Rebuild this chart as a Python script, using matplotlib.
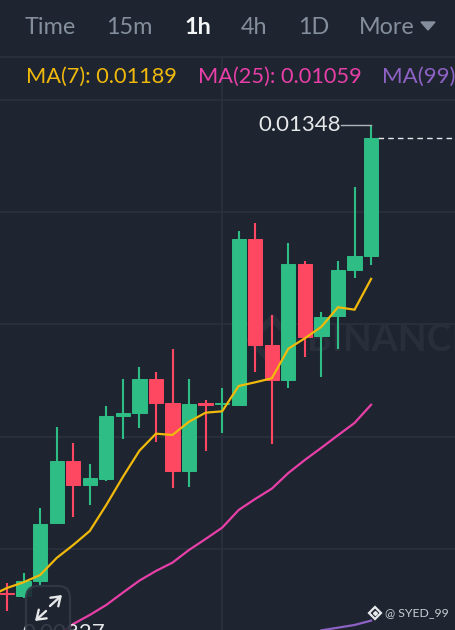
import matplotlib
matplotlib.use("Agg")
import matplotlib.pyplot as plt
from matplotlib.patches import FancyBboxPatch, Polygon

# candles
opens = [0.00865, 0.008618, 0.00877, 0.009372, 0.01001, 0.00976, 0.00982, 0.010474, 0.010502, 0.010853, 0.010611, 0.009909,
         0.010605, 0.010595, 0.010584, 0.012305, 0.011204, 0.010843, 0.012044, 0.011303, 0.011507, 0.011985, 0.012127]
closes = [0.00863, 0.00877, 0.009358, 0.010009, 0.00976, 0.00983, 0.010474, 0.010505, 0.010853, 0.010605, 0.009909, 0.010595,
          0.010588, 0.010611, 0.012305, 0.011204, 0.010843, 0.012044, 0.011293, 0.011494, 0.011985, 0.012127, 0.013343]
highs = [0.00875, 0.008852, 0.009524, 0.01036, 0.010195, 0.00998, 0.010577, 0.010853, 0.010977, 0.010932, 0.011166, 0.010853,
         0.01064, 0.010763, 0.012385, 0.012468, 0.011517, 0.012261, 0.012075, 0.011545, 0.012075, 0.01284, 0.01348]
lows = [0.00846, 0.008594, 0.008728, 0.00937, 0.009434, 0.009555, 0.009806, 0.01024, 0.010353, 0.010205, 0.009733, 0.009744,
        0.010115, 0.010301, 0.010584, 0.010932, 0.010182, 0.010763, 0.011087, 0.010874, 0.011163, 0.0119, 0.012034]

ma7_x = list(range(-1, 23))
ma7 = [0.008615, 0.008697, 0.008756, 0.008831, 0.009007, 0.009141, 0.009286, 0.009555, 0.009844, 0.010115, 0.010291, 0.010278,
       0.010415, 0.010508, 0.010522, 0.010784, 0.010822, 0.010863, 0.011169, 0.011277, 0.011396, 0.011597, 0.011572, 0.01189]
ma25_x = list(range(3, 23))
ma25 = [0.0082, 0.008325, 0.008418, 0.008522, 0.008649, 0.008773, 0.008873, 0.008959, 0.00909, 0.009203, 0.00932, 0.009503,
        0.009617, 0.009723, 0.009885, 0.01002, 0.010146, 0.010275, 0.010402, 0.01059]
ma99_x = [19, 20, 21, 22]
ma99 = [0.00826, 0.008287, 0.008315, 0.00836]

grid_prices = [0.01258, 0.01142, 0.01026, 0.0091]
tabs = ["Time", "15m", "1h", "4h", "1D", "More"]
tab_x = [25, 106, 184, 241, 298, 359]

BG = "#1e2530"
GRID = "#2b323e"
GREEN = "#2ebd85"
RED = "#fe4761"
W, H = 455, 630
FONT = "Lato"

fig = plt.figure(figsize=(W / 100, H / 100), dpi=100, facecolor=BG)
ax = fig.add_axes([0, 0, 1, 1], facecolor=BG)
ax.set_xlim(-7 / 16.55, (W - 7) / 16.55)
ax.set_ylim(0.008263, 0.014771)
ax.axis("off")

# second axes in pixels for the header and the overlays
ov = fig.add_axes([0, 0, 1, 1], facecolor="none", zorder=5)
ov.set_xlim(0, W)
ov.set_ylim(H, 0)
ov.axis("off")

for p in grid_prices:
    ax.axhline(p, color=GRID, lw=1.2, zorder=1)
ax.axvline(13, ymax=(H - 57) / H, color=GRID, lw=1.2, zorder=1)

# faint watermark behind the candles
ax.text(307 / W, 1 - 340 / H, "BINANCE", transform=fig.transFigure, color="#282f3b", fontsize=27,
        fontweight="bold", family=FONT, va="center", zorder=2)
ax.plot([272 / W], [1 - 340 / H], transform=fig.transFigure, marker="D", ms=22, mfc="none", mec="#282f3b",
        mew=5, zorder=2)

for i in range(len(opens)):
    c = GREEN if closes[i] >= opens[i] else RED
    ax.vlines(i, lows[i], highs[i], color=c, lw=1.5, zorder=3)
    ax.bar(i, abs(closes[i] - opens[i]), bottom=min(opens[i], closes[i]), width=0.86, color=c,
           edgecolor=c, lw=0.7, zorder=4)

ax.plot(ma7_x, ma7, color="#f0b90b", lw=1.6, zorder=6, solid_joinstyle="miter")
ax.plot(ma25_x, ma25, color="#e83fa8", lw=1.6, zorder=6)
ax.plot(ma99_x, ma99, color="#8e62c4", lw=1.6, zorder=6)

# last close and highest price marks
ax.plot([378 / 16.55 - 7 / 16.55, (W - 7) / 16.55], [closes[-1], closes[-1]], color="#e6e8ea", lw=1,
        ls=(0, (4, 3)), zorder=3)
ax.plot([341 / 16.55 - 7 / 16.55, 22], [highs[-1], highs[-1]], color="#b0b4ba", lw=1, zorder=3)
ax.annotate("0.01348", (341, 125), xycoords=ov.transData, color="#e6e8ea", fontsize=16, family=FONT,
            ha="right", va="center")

# header
for x_, t in zip(tab_x, tabs):
    ov.text(x_, 27, t, color="#f4f5f6" if t == "1h" else "#848e9c", fontsize=16.8, family=FONT,
            fontweight="bold" if t == "1h" else "normal", va="center")
ov.add_patch(Polygon([(421, 22), (435, 22), (428, 30)], color="#848e9c"))
ov.plot([0, W], [56.5, 56.5], color=GRID, lw=1.2)
ov.plot([0, W], [99.5, 99.5], color=GRID, lw=1.2)
ov.text(26, 77, "MA(7): 0.01189", color="#f0b90b", fontsize=15.7, family=FONT, va="center")
ov.text(198, 77, "MA(25): 0.01059", color="#e83fa8", fontsize=15.7, family=FONT, va="center")
ov.text(382, 77, "MA(99): 0.00836", color="#8e62c4", fontsize=16, family=FONT, va="center")

# clipped lowest price and the expand button over it
ov.text(22, 633, "0.00827", color="#e6e8ea", fontsize=16, family=FONT, va="center", zorder=2)
ov.add_patch(FancyBboxPatch((26, 586), 44, 64, boxstyle="round,pad=0,rounding_size=12", fc=BG, ec="#333b47",
                            lw=1.6, alpha=0.88, zorder=3))
arrow = dict(arrowstyle="->,head_width=0.42,head_length=0.6", color="#e6e8ea", lw=1.7, shrinkA=0, shrinkB=0)
ov.annotate("", (62, 595), (50, 606), arrowprops=arrow, zorder=4)
ov.annotate("", (35, 621), (46, 611), arrowprops=arrow, zorder=4)

# signature
ov.plot([375], [613], marker="D", ms=6.5, mfc="none", mec="#e6e8ea", mew=1.6)
ov.plot([375], [613], marker="D", ms=2, color="#e6e8ea")
ov.text(385, 613, "@ SYED_99", color="#c8ccd2", fontsize=8.8, family=FONT, va="center")

fig.savefig("out.png", dpi=100, facecolor=BG)
